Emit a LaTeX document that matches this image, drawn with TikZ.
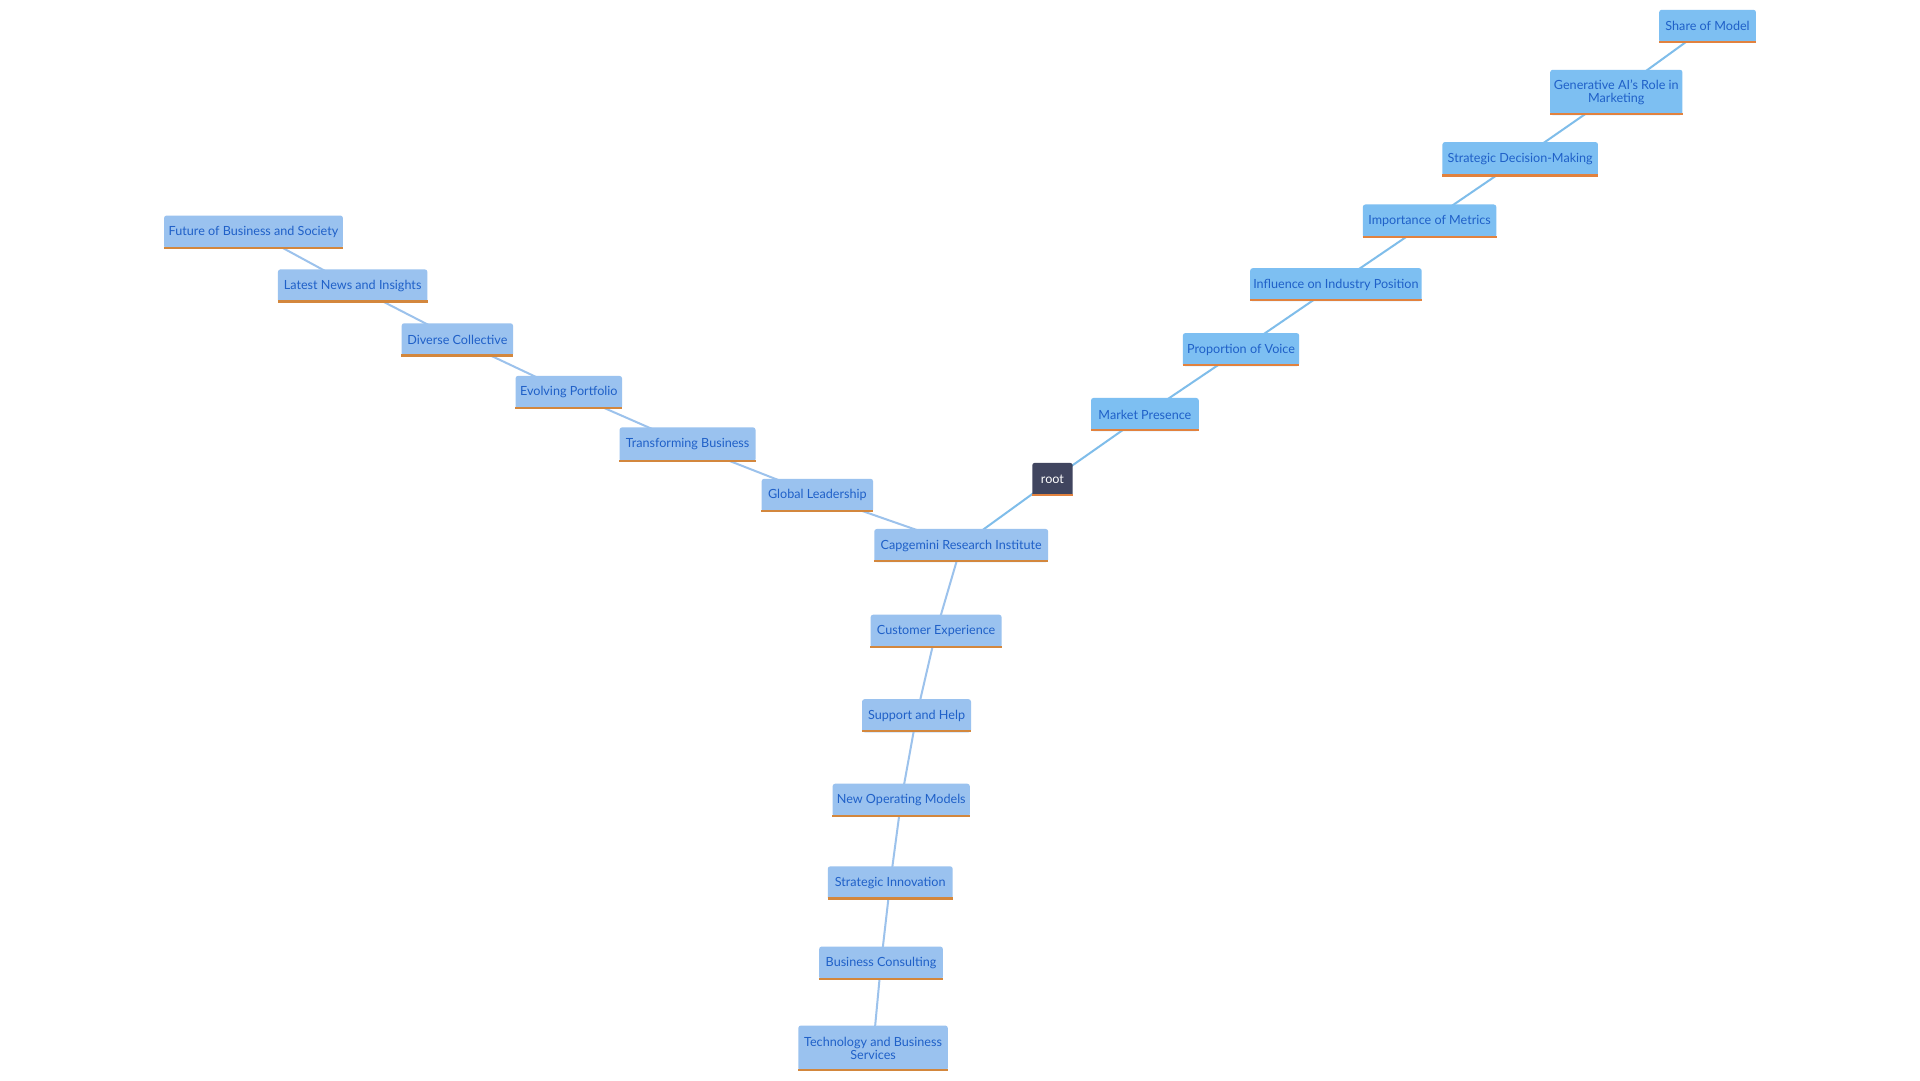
\documentclass[tikz,border=0pt]{standalone}
\usepackage{fontspec}
\setmainfont{Lato}
\usetikzlibrary{backgrounds}
\definecolor{lb}{HTML}{9AC2EF}
\definecolor{rb}{HTML}{7DBFF2}
\definecolor{txt}{HTML}{1F60C8}
\definecolor{orl}{HTML}{D3873D}
\definecolor{orr}{HTML}{E2823E}
\definecolor{rootc}{HTML}{40455F}
\definecolor{el}{HTML}{9CC2EC}
\definecolor{er}{HTML}{7FBDEA}
\tikzset{
  box/.style={rectangle, rounded corners=2.5pt, inner sep=0pt, font=\fontsize{12.6}{13.4}\selectfont, text=txt, align=center},
  lbox/.style={box, fill=lb},
  rbox/.style={box, fill=rb},
  rootbox/.style={box, fill=rootc, text=white},
  sz/.style 2 args={minimum width={#1*1.2245pt}, minimum height={#2*1.2245pt}},
  ledge/.style={draw=el, line width=2pt},
  redge/.style={draw=er, line width=2pt},
  lbar/.style={draw=orl, line width=2.2pt},
  rbar/.style={draw=orr, line width=2.2pt},
}
\begin{document}
\begin{tikzpicture}[x=1.2245pt, y=-1.2245pt]
\useasboundingbox (0,0) rectangle (1568,882);
% right branch
\node[rbox, sz={79}{27}] (share) at (1394.5,21.5) {Share of Model};
\node[rbox, sz={108}{37}] (gen) at (1320,75.5) {Generative AI’s Role in\\Marketing};
\node[rbox, sz={127}{28}] (sdm) at (1241.5,130) {Strategic Decision-Making};
\node[rbox, sz={109}{27}] (imp) at (1167.5,180.5) {Importance of Metrics};
\node[rbox, sz={140}{27}] (inf) at (1091,232.5) {Influence on Industry Position};
\node[rbox, sz={95}{27}] (prop) at (1013.5,285.5) {Proportion of Voice};
\node[rbox, sz={88}{27}] (mkt) at (935,338.5) {Market Presence};
\node[rootbox, sz={33}{27}] (root) at (859.5,391.5) {root};
% left branch
\node[lbox, sz={142}{27}] (cap) at (785,445.5) {Capgemini Research Institute};
\node[lbox, sz={91}{27}] (glob) at (667.5,404.5) {Global Leadership};
\node[lbox, sz={111}{28}] (trans) at (561.5,363) {Transforming Business};
\node[lbox, sz={87}{27}] (evol) at (464.5,320.5) {Evolving Portfolio};
\node[lbox, sz={91}{27}] (div) at (373.5,277.5) {Diverse Collective};
\node[lbox, sz={122}{27}] (lat) at (288,233.5) {Latest News and Insights};
\node[lbox, sz={146}{27}] (fut) at (207,189.5) {Future of Business and Society};
% bottom branch
\node[lbox, sz={107}{27}] (cust) at (764.5,515.5) {Customer Experience};
\node[lbox, sz={89}{27}] (sup) at (748.5,584.5) {Support and Help};
\node[lbox, sz={112}{27}] (newop) at (736,653.5) {New Operating Models};
\node[lbox, sz={102}{27}] (sinn) at (727,721) {Strategic Innovation};
\node[lbox, sz={101}{27}] (bcon) at (719.5,786.5) {Business Consulting};
\node[lbox, sz={122}{37}] (tech) at (713,856) {Technology and Business\\Services};
% bottom bars
\foreach \n in {share,gen,sdm,imp,inf,prop,mkt,root}
  \draw[rbar] ([yshift=1.1pt]\n.south west) -- ([yshift=1.1pt]\n.south east);
\foreach \n in {cap,glob,trans,evol,div,lat,fut,cust,sup,newop,sinn,bcon,tech}
  \draw[lbar] ([yshift=1.1pt]\n.south west) -- ([yshift=1.1pt]\n.south east);
\begin{scope}[on background layer]
  \fill[white] (0,0) rectangle (1568,882);
  \draw[redge] (root.center) -- (mkt.center);
  \draw[redge] (mkt.center) -- (prop.center);
  \draw[redge] (prop.center) -- (inf.center);
  \draw[redge] (inf.center) -- (imp.center);
  \draw[redge] (imp.center) -- (sdm.center);
  \draw[redge] (sdm.center) -- (gen.center);
  \draw[redge] (gen.center) -- (share.center);
  \draw[redge] (root.center) -- (cap.center);
  \draw[ledge] (cap.center) -- (glob.center);
  \draw[ledge] (glob.center) -- (trans.center);
  \draw[ledge] (trans.center) -- (evol.center);
  \draw[ledge] (evol.center) -- (div.center);
  \draw[ledge] (div.center) -- (lat.center);
  \draw[ledge] (lat.center) -- (fut.center);
  \draw[ledge] (cap.center) -- (cust.center);
  \draw[ledge] (cust.center) -- (sup.center);
  \draw[ledge] (sup.center) -- (newop.center);
  \draw[ledge] (newop.center) -- (sinn.center);
  \draw[ledge] (sinn.center) -- (bcon.center);
  \draw[ledge] (bcon.center) -- (tech.center);
\end{scope}
\end{tikzpicture}
\end{document}
